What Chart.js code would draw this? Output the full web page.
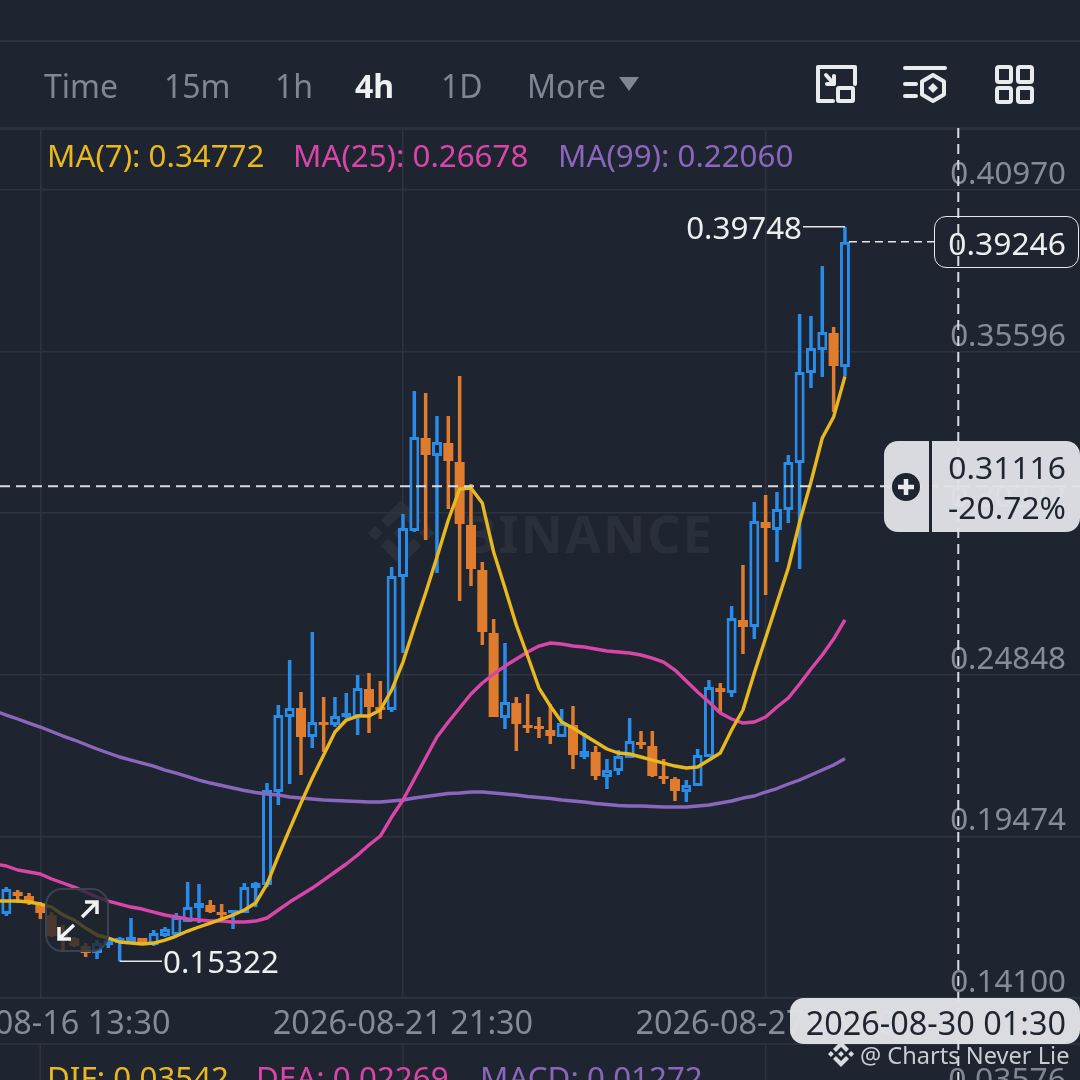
<!DOCTYPE html>
<html><head><meta charset="utf-8">
<script src="https://cdn.jsdelivr.net/npm/chart.js@4/dist/chart.umd.min.js"></script>
<style>
html,body{margin:0;padding:0;width:1080px;height:1080px;overflow:hidden;background:#1f2530;font-family:"Noto Sans",sans-serif}
#stage{position:relative;width:1080px;height:1080px;overflow:hidden}
canvas{position:absolute;left:0;top:0;z-index:1}
.t{position:absolute;white-space:nowrap;transform:translateY(-50%);font-size:31.3px;line-height:1.2;z-index:3}
.h{font-size:32px}
.r{transform:translateY(-50%);text-align:right;font-size:31.8px}
.hl{position:absolute;left:0;width:1080px;background:#2b313c;z-index:0}
svg{position:absolute;overflow:visible}
</style></head><body>
<div id="stage">
<div class="hl" style="top:40px;height:2px;background:#2e3540"></div>
<div class="hl" style="top:127px;height:3px"></div>
<div class="hl" style="top:1043px;height:2px"></div>
<svg style="left:368px;top:500px;z-index:0" width="66" height="66" viewBox="0 0 126.61 126.61"><path id="bnb" fill="#2a303b" d="M38.73 53.2l24.59-24.58 24.6 24.6 14.3-14.31L63.32 0 24.42 38.9 38.73 53.2zM0 63.31l14.31-14.31 14.31 14.31-14.31 14.3zM38.73 73.41l24.59 24.59 24.6-24.59 14.31 14.29-38.9 38.91-38.91-38.88-.02-.02zM98.28 63.31l14.3-14.31 14.31 14.31-14.31 14.3zM77.83 63.3l-14.51-14.52-10.73 10.73-1.24 1.23-2.54 2.54 14.51 14.5 14.51-14.47z"/></svg>
<div class="t" style="left:462px;top:533px;font-size:52px;font-weight:700;color:#2a303b;letter-spacing:2px;z-index:0">BINANCE</div>
<canvas id="c" width="1080" height="1080"></canvas>

<div class="t h" style="left:44px;top:86px;color:#7f8794">Time</div>
<div class="t h" style="left:164px;top:86px;color:#7f8794">15m</div>
<div class="t h" style="left:275px;top:86px;color:#7f8794">1h</div>
<div class="t h" style="left:355px;top:86px;color:#f0f1f3;font-weight:700">4h</div>
<div class="t h" style="left:441px;top:86px;color:#7f8794">1D</div>
<div class="t h" style="left:527px;top:86px;color:#7f8794">More</div>
<svg style="left:0;top:0;z-index:3" width="1080" height="130">
<path d="M619 77h20l-10 14z" fill="#7f8794"/>
<g fill="none" stroke="#e8eaed" stroke-width="4" stroke-linejoin="round" stroke-linecap="round">
<path d="M833 101h-15V67h37v17"/><rect x="838" y="88" width="15" height="13" rx="1"/><path d="M826 75l8 9M834 76v8h-7"/>
<path d="M905 68h40M905 84h11M905 96h11"/><path d="M933 75l11 6.5v13L933 101l-11-6.5v-13z"/>
<rect x="997" y="67" width="14" height="15" rx="2"/><rect x="1018" y="67" width="14" height="15" rx="2"/><rect x="997" y="88" width="14" height="14" rx="2"/><rect x="1018" y="88" width="14" height="14" rx="2"/>
</g><path d="M933 83l5 5-5 5-5-5z" fill="#e8eaed"/></svg>

<div class="t" style="left:47px;top:156px;color:#e9b81f">MA(7): 0.34772</div>
<div class="t" style="left:293px;top:156px;color:#d946a8">MA(25): 0.26678</div>
<div class="t" style="left:558px;top:156px;color:#8a67bd">MA(99): 0.22060</div>

<div style="position:absolute;left:45px;top:888px;width:60px;height:60px;border:2.5px solid #3b414d;border-radius:17px;background:rgba(31,37,48,.78);z-index:2"></div>
<svg style="left:0;top:0;z-index:3" width="120" height="960"><g fill="none" stroke="#f0f1f3" stroke-width="3.5"><path d="M82 917l15-15M85 902h12v12M74 925l-15 14M59 927v12h12"/></g></svg>

<div style="position:absolute;left:934px;top:216px;width:143px;height:50px;border:1.5px solid #e4e6ea;border-radius:12px;z-index:3"></div>
<div class="t r" style="right:14px;top:243px;color:#eceef0">0.39246</div>

<div style="position:absolute;left:884px;top:441px;width:196px;height:91px;border-radius:14px;background:rgba(224,226,230,.96);z-index:3"></div>
<div style="position:absolute;left:929px;top:441px;width:3px;height:91px;background:#1f2530;z-index:3"></div>
<svg style="left:0;top:0;z-index:4" width="1080" height="540"><circle cx="906" cy="487" r="14" fill="#1f2530"/><path d="M906 479v16M898 487h16" stroke="#e8eaed" stroke-width="4.5"/></svg>
<div class="t r" style="right:14px;top:467px;color:#1f2530;z-index:4">0.31116</div>
<div class="t r" style="right:14px;top:507px;color:#1f2530;z-index:4">-20.72%</div>

<div style="position:absolute;left:790px;top:998px;width:290px;height:46px;border-radius:14px;background:rgba(224,226,230,.97);z-index:3"></div>
<div class="t r" style="right:14px;top:1022px;color:#1f2530;z-index:4;font-size:32.4px">2026-08-30 01:30</div>

<svg style="left:828px;top:1041px;z-index:4" width="26" height="26" viewBox="0 0 126.61 126.61"><path fill="#d8dbe0" d="M38.73 53.2l24.59-24.58 24.6 24.6 14.3-14.31L63.32 0 24.42 38.9 38.73 53.2zM0 63.31l14.31-14.31 14.31 14.31-14.31 14.3zM38.73 73.41l24.59 24.59 24.6-24.59 14.31 14.29-38.9 38.91-38.91-38.88-.02-.02zM98.28 63.31l14.3-14.31 14.31 14.31-14.31 14.3zM77.83 63.3l-14.51-14.52-10.73 10.73-1.24 1.23-2.54 2.54 14.51 14.5 14.51-14.47z"/></svg>
<div class="t" style="left:860px;top:1055px;font-size:23.6px;color:#c9cdd3;z-index:4">@ Charts Never Lie</div>

<div class="t" style="left:47px;top:1078px;color:#e9b81f">DIF: 0.03542</div>
<div class="t" style="left:256px;top:1078px;color:#d946a8">DEA: 0.02269</div>
<div class="t" style="left:480px;top:1078px;color:#8a67bd">MACD: 0.01272</div>
<div class="t r" style="right:14px;top:1078px;color:#7f8794">0.03576</div>
</div>
<script>
const opens=[.17192,.16893,.17624,.17491,.17192,.16860,.16228,.16095,.15829,.15596,.15862,.15928,.15962,.16095,.15862,.16161,.16195,.16626,.17092,.17192,.16959,.16926,.16926,.17757,.17857,.20950,.23444,.23743,.22779,.23278,.23178,.23444,.23444,.24375,.23743,.23677,.28100,.29630,.32723,.32124,.32556,.31925,.29829,.28333,.26238,.23411,.23909,.23144,.23144,.23012,.22779,.23178,.22114,.22280,.21448,.21648,.22081,.22613,.22480,.21448,.21382,.20950,.21149,.22114,.24408,.24242,.26670,.26437,.29929,.29663,.30328,.31891,.34884,.35649,.36214,.35084];
const highs=[.17724,.17790,.17691,.17591,.17291,.16959,.16527,.16128,.15928,.16028,.16128,.16128,.16760,.16095,.16361,.16461,.16926,.17957,.17890,.17358,.17225,.17026,.17924,.17957,.21249,.23843,.25340,.24275,.26271,.24109,.24109,.24242,.24840,.24907,.24641,.28433,.30195,.34286,.34219,.33453,.33453,.34784,.31193,.28599,.26703,.25905,.24109,.24209,.23444,.23876,.23710,.23810,.22912,.22480,.22047,.22347,.23411,.22979,.22979,.22047,.21448,.21349,.22380,.24674,.24574,.27135,.28499,.30594,.30827,.30927,.32157,.36846,.36779,.38442,.36414,.39748];
const lows=[.17059,.16826,.17258,.17192,.16726,.16128,.15696,.15796,.15463,.15396,.15762,.15322,.15928,.15862,.15829,.16128,.16128,.16626,.16593,.16926,.16626,.16394,.16926,.17125,.17790,.20517,.21216,.21515,.22413,.22280,.23111,.23411,.22845,.22912,.23378,.23610,.25572,.29596,.29330,.28233,.30361,.27302,.27800,.25838,.23444,.23045,.22314,.22912,.22746,.22546,.22779,.21714,.22047,.21349,.21049,.21515,.22081,.22380,.21448,.21216,.20651,.20617,.21149,.22114,.23577,.24109,.25539,.26038,.27501,.28599,.29895,.28366,.34386,.34751,.33587,.34784];
const closes=[.17591,.17724,.17491,.17325,.16926,.16161,.16128,.15829,.15596,.15928,.16028,.16095,.16128,.15928,.16261,.16394,.16793,.17125,.17258,.16959,.16860,.17026,.17790,.17924,.21016,.23510,.23743,.22779,.23278,.23178,.23477,.23577,.24408,.23776,.23677,.28133,.29730,.32756,.32157,.32589,.31958,.29862,.28366,.26271,.23444,.23943,.23211,.23078,.23045,.22812,.23244,.22180,.22314,.21482,.21681,.22147,.22646,.22513,.21482,.21382,.20983,.21183,.22180,.24442,.24275,.26736,.26437,.29962,.29730,.30361,.31925,.34917,.35715,.36247,.35117,.39246];
const ma7=[.17325,.17325,.17325,.17291,.17225,.17125,.16860,.16693,.16427,.16195,.16095,.15962,.15928,.15895,.15928,.16028,.16161,.16327,.16461,.16593,.16726,.16860,.17026,.17258,.17890,.18822,.19719,.20584,.21415,.22180,.22945,.23344,.23477,.23477,.23677,.24342,.25273,.26437,.27568,.28765,.29995,.31026,.31060,.30561,.28931,.27734,.26504,.25473,.24408,.23810,.23278,.23078,.22845,.22613,.22380,.22247,.22214,.22114,.22014,.21914,.21814,.21748,.21781,.22014,.22247,.23012,.23677,.24907,.26071,.27235,.28399,.29929,.31259,.32723,.33421,.34772];
const ma25=[.18556,.18489,.18356,.18290,.18223,.18057,.17924,.17790,.17624,.17458,.17325,.17225,.17125,.17059,.16959,.16860,.16793,.16726,.16693,.16660,.16660,.16626,.16626,.16660,.16760,.17026,.17291,.17524,.17757,.18023,.18290,.18556,.18855,.19188,.19487,.20119,.20684,.21382,.22081,.22779,.23278,.23743,.24209,.24574,.24874,.25140,.25373,.25605,.25805,.25905,.25872,.25805,.25772,.25705,.25639,.25605,.25572,.25506,.25406,.25273,.25007,.24641,.24275,.23943,.23577,.23378,.23244,.23278,.23444,.23776,.24076,.24541,.25040,.25506,.26038,.26678];
const ma99=[.23644,.23510,.23378,.23244,.23111,.22962,.22812,.22679,.22530,.22380,.22247,.22114,.22014,.21914,.21814,.21681,.21581,.21465,.21349,.21249,.21166,.21083,.21000,.20933,.20883,.20850,.20784,.20750,.20717,.20684,.20667,.20651,.20634,.20617,.20617,.20651,.20684,.20750,.20800,.20850,.20900,.20916,.20950,.20950,.20916,.20883,.20850,.20800,.20767,.20733,.20684,.20651,.20617,.20567,.20534,.20501,.20484,.20484,.20467,.20451,.20451,.20451,.20484,.20517,.20584,.20651,.20750,.20817,.20950,.21066,.21216,.21349,.21515,.21681,.21847,.22060];
const yTicks=[.14100,.19474,.24848,.30222,.35596,.40970];
const xTickIndex=[4,36,68];
const xTickLabels=["2026-08-16 13:30","2026-08-21 21:30","2026-08-27 05:30"];
const crossIndex=85, crossPrice=0.31116, lastPrice=0.39246;
const highLabel="0.39748", lowLabel="0.15322";

const BLUE="#2a8ce9",ORANGE="#e07c2e",BG="#1f2530",GRID="#2e343f";
const up=opens.map((o,i)=>closes[i]>=o);
const idx=opens.map((_,i)=>i);
const line=(arr,color,label)=>({type:'line',label,data:idx.map(i=>({x:i,y:arr[i]})),borderColor:color,borderWidth:3.4,borderJoinStyle:'round',pointRadius:0,tension:0,order:1,clip:true});
const noPad=s=>{s.paddingLeft=0;s.paddingRight=0;s.paddingTop=0;s.paddingBottom=0;};

const overlay={id:'overlay',
 afterDatasetsDraw(ch){
  const {ctx,scales:{x,y}}=ch;
  ctx.save();
  ctx.strokeStyle="#d8dbe0";ctx.lineWidth=2;ctx.setLineDash([10,6]);
  ctx.beginPath();ctx.moveTo(0,y.getPixelForValue(crossPrice));ctx.lineTo(1080,y.getPixelForValue(crossPrice));ctx.stroke();
  const cx=x.getPixelForValue(crossIndex);
  ctx.beginPath();ctx.moveTo(cx,128);ctx.lineTo(cx,1080);ctx.stroke();
  const li=idx[idx.length-1],lx=x.getPixelForValue(li);
  ctx.lineWidth=1.5;ctx.setLineDash([8,5]);ctx.strokeStyle="#e4e6ea";
  ctx.beginPath();ctx.moveTo(lx+4,y.getPixelForValue(lastPrice));ctx.lineTo(934,y.getPixelForValue(lastPrice));ctx.stroke();
  ctx.setLineDash([]);ctx.lineWidth=1.5;
  const hy=y.getPixelForValue(highs[li]);
  ctx.beginPath();ctx.moveTo(lx,hy);ctx.lineTo(803,hy);ctx.stroke();
  const lowI=lows.indexOf(Math.min(...lows)),ly=y.getPixelForValue(lows[lowI]),lox=x.getPixelForValue(lowI);
  ctx.beginPath();ctx.moveTo(lox,ly);ctx.lineTo(162,ly);ctx.stroke();
  ctx.fillStyle="#eceef0";ctx.font='31.3px "Noto Sans"';ctx.textBaseline='middle';
  ctx.textAlign='right';ctx.fillText(highLabel,802,hy+3);
  ctx.textAlign='left';ctx.fillText(lowLabel,163,ly+3);
  ctx.strokeStyle=GRID;ctx.lineWidth=1.5;
  xTickIndex.forEach(v=>{const p=x.getPixelForValue(v);ctx.beginPath();ctx.moveTo(p,1044);ctx.lineTo(p,1080);ctx.stroke();});
  ctx.restore();
 }};

new Chart(document.getElementById('c'),{
 type:'bar',
 data:{datasets:[
  line(ma7,"#e9b81f","MA(7)"),
  line(ma25,"#d946a8","MA(25)"),
  line(ma99,"#8a67bd","MA(99)"),
  {label:'Body',order:2,grouped:false,barThickness:10,minBarLength:3,borderSkipped:false,inflateAmount:0,
   data:idx.map(i=>({x:i,y:[opens[i],closes[i]]})),
   backgroundColor:idx.map(i=>up[i]?BG:ORANGE),
   borderColor:idx.map(i=>up[i]?BLUE:ORANGE),
   borderWidth:idx.map(i=>up[i]?3:0)},
  {label:'Wick',order:3,grouped:false,barThickness:3.5,borderSkipped:false,inflateAmount:0,
   data:idx.map(i=>({x:i,y:[lows[i],highs[i]]})),
   backgroundColor:idx.map(i=>up[i]?BLUE:ORANGE),borderWidth:0}
 ]},
 options:{
  responsive:false,animation:false,devicePixelRatio:1,
  layout:{padding:{top:128,left:0,right:0,bottom:0}},
  plugins:{legend:{display:false},tooltip:{enabled:false}},
  scales:{
   x:{type:'linear',offset:false,min:0.441,max:95.74,
    grid:{offset:false,color:GRID,lineWidth:1.5,drawTicks:false},border:{display:true,color:GRID,width:1.5},
    afterBuildTicks:s=>{s.ticks=xTickIndex.map(v=>({value:v}));},
    afterFit:s=>{s.height=82;noPad(s);},
    ticks:{autoSkip:false,maxRotation:0,minRotation:0,padding:7,color:"#858c99",font:{family:'"Noto Sans"',size:32.4},
     callback:v=>xTickLabels[xTickIndex.indexOf(v)]}},
   y:{type:'linear',position:'right',min:0.141,max:0.43032,
    grid:{color:GRID,lineWidth:1.5,drawTicks:false},border:{display:false},
    afterBuildTicks:s=>{s.ticks=yTicks.map(v=>({value:v}));},
    afterFit:s=>{s.width=0;noPad(s);},
    ticks:{mirror:true,padding:-14,labelOffset:-15,color:"#858c99",font:{family:'"Noto Sans"',size:31.3},
     callback:v=>v.toFixed(5)}}
  }
 },
 plugins:[overlay]
});
</script>
</body></html>
